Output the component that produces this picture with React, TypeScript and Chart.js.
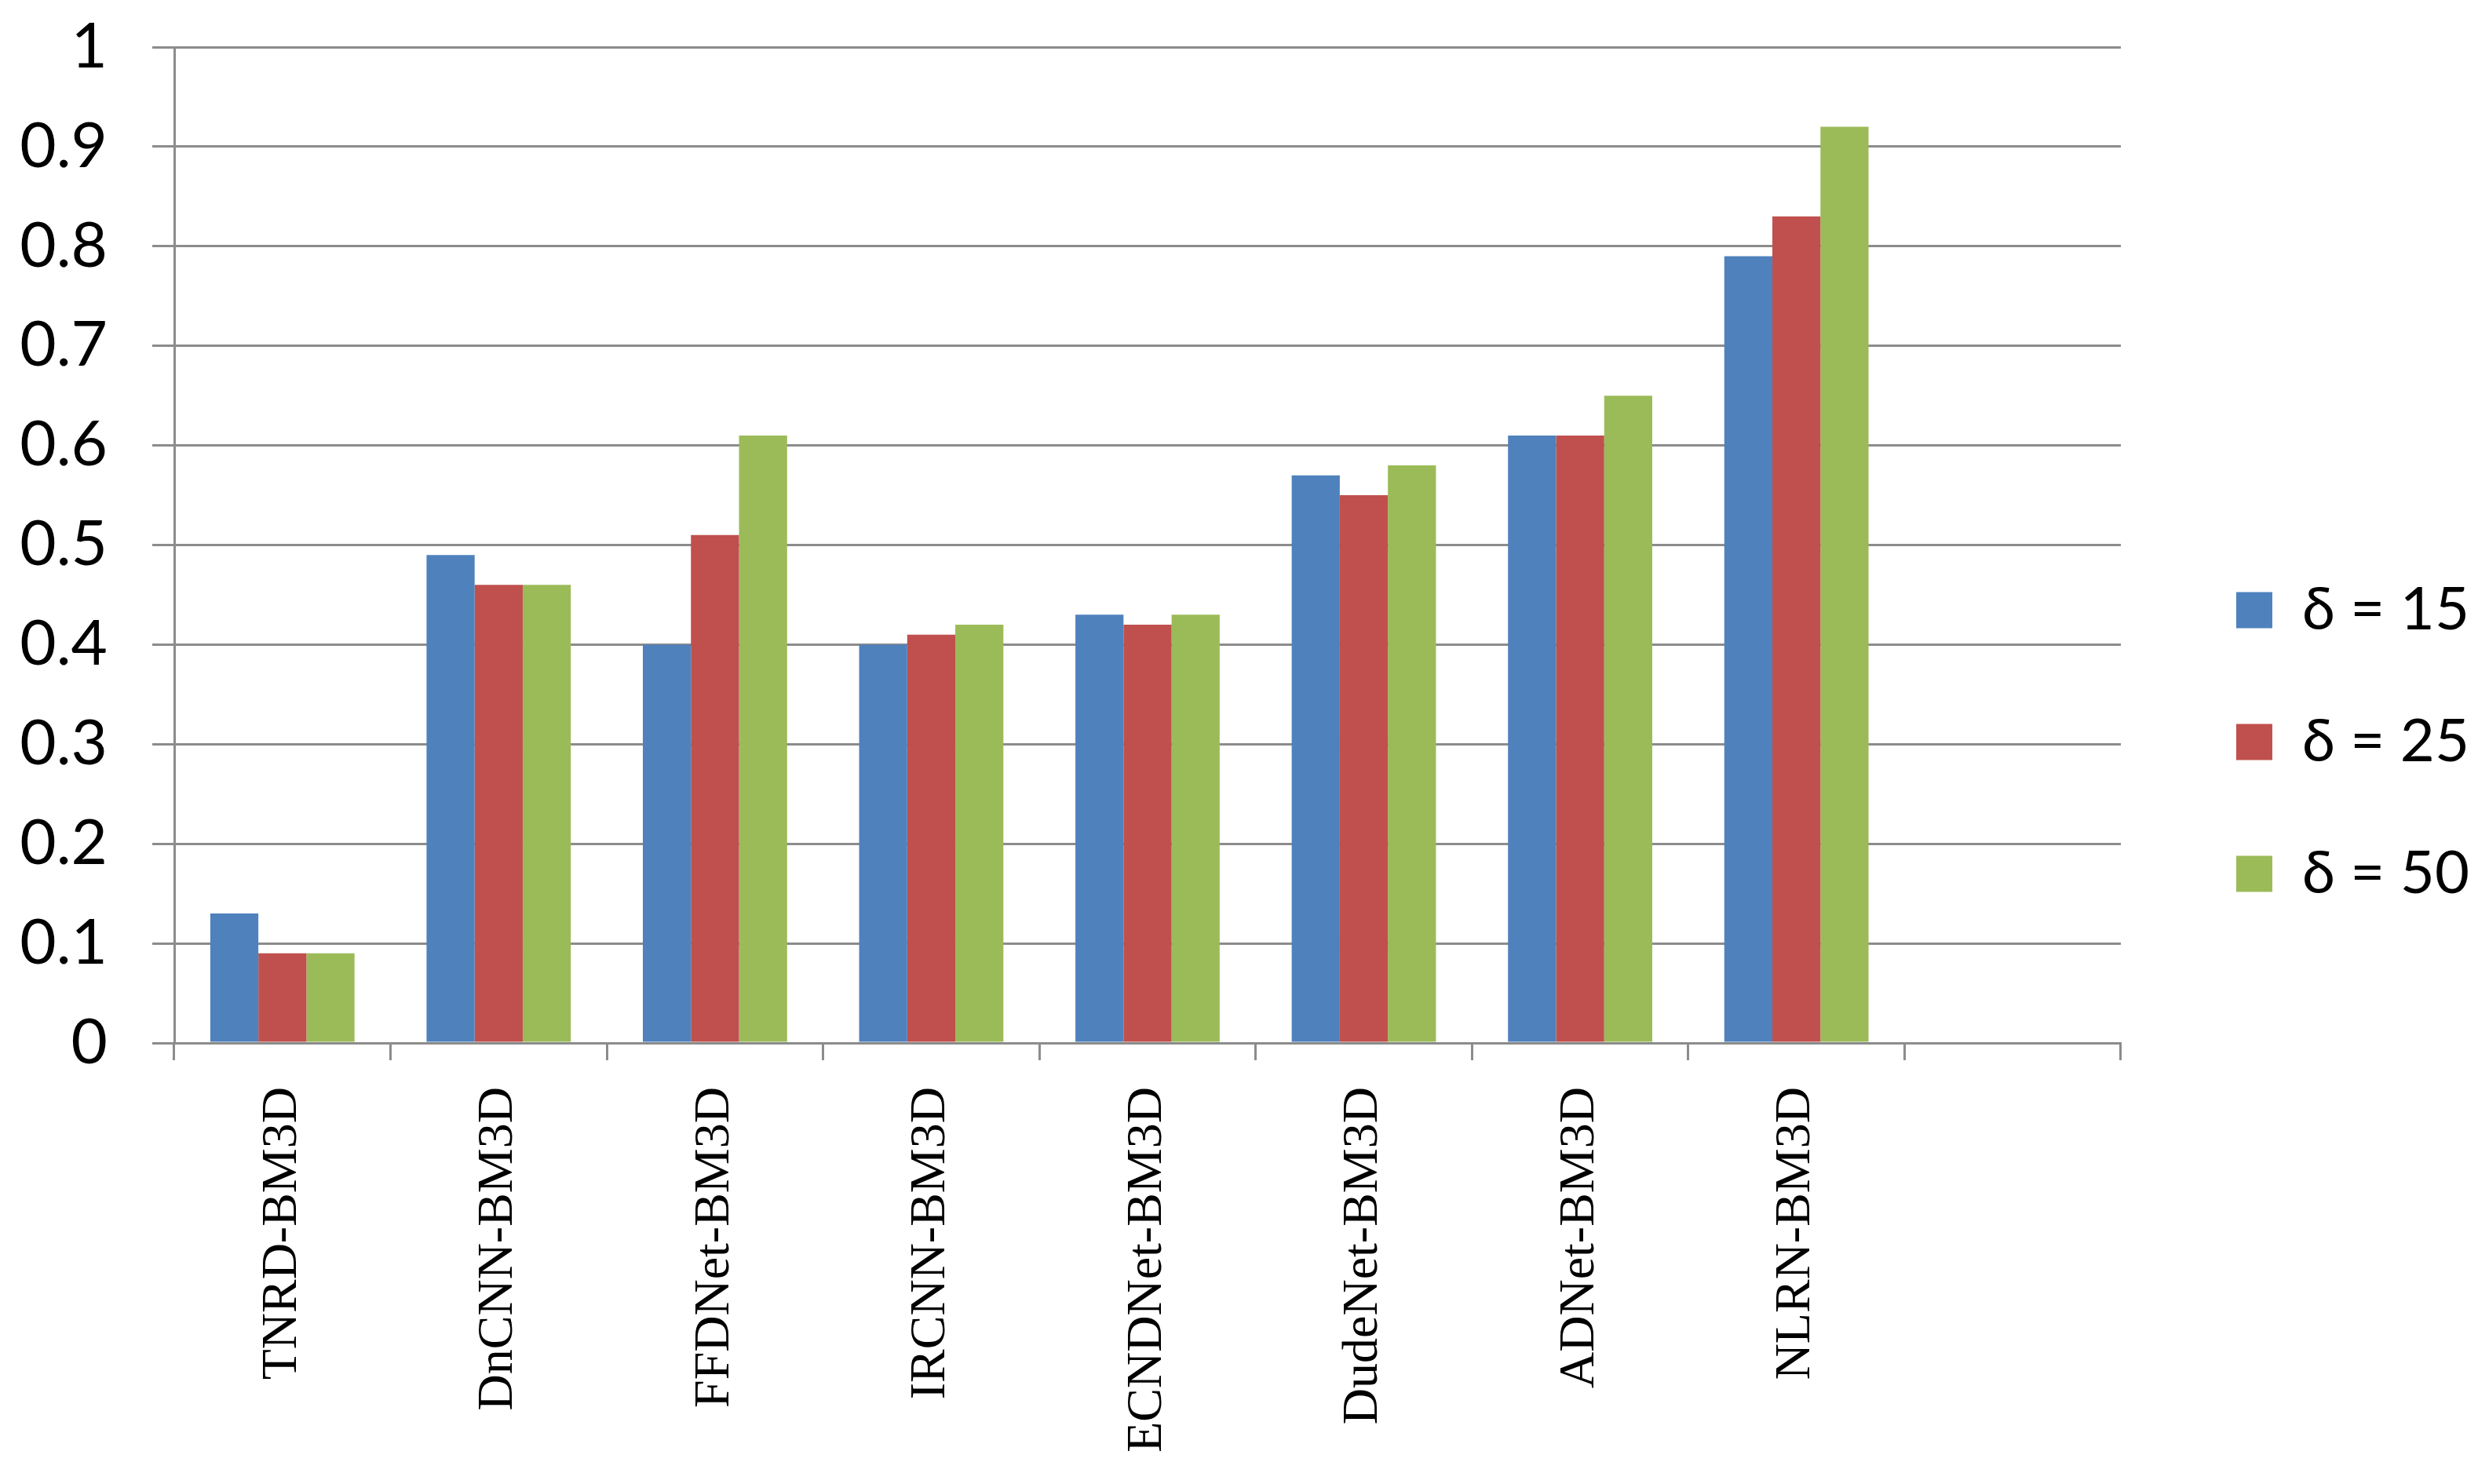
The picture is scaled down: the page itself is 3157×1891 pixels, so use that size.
import React, { useEffect, useRef } from "react";
import { Chart, registerables } from "chart.js";

Chart.register(...registerables);

const categories = [
  "TNRD-BM3D",
  "DnCNN-BM3D",
  "FFDNet-BM3D",
  "IRCNN-BM3D",
  "ECNDNet-BM3D",
  "DudeNet-BM3D",
  "ADNet-BM3D",
  "NLRN-BM3D",
  "",
];

const seriesNames = ["δ = 15", "δ = 25", "δ = 50"];
const delta15 = [0.13, 0.49, 0.4, 0.4, 0.43, 0.57, 0.61, 0.79, null];
const delta25 = [0.09, 0.46, 0.51, 0.41, 0.42, 0.55, 0.61, 0.83, null];
const delta50 = [0.09, 0.46, 0.61, 0.42, 0.43, 0.58, 0.65, 0.92, null];
const seriesColors = ["#4F81BD", "#C0504D", "#9BBB59"];
const yTickLabels = ["0", "0.1", "0.2", "0.3", "0.4", "0.5", "0.6", "0.7", "0.8", "0.9", "1"];

const W = 3157;
const H = 1891;
const GRID = "#8c8c8c";

export default function App() {
  const ref = useRef<HTMLCanvasElement | null>(null);

  useEffect(() => {
    if (!ref.current) return;
    const values = [delta15, delta25, delta50];
    const chart = new Chart(ref.current, {
      type: "bar",
      data: {
        labels: categories,
        datasets: values.map((v, i) => ({
          label: seriesNames[i],
          data: v,
          backgroundColor: seriesColors[i],
          borderWidth: 0,
          barPercentage: 1,
          categoryPercentage: 0.667,
          yAxisID: "y",
        })),
      },
      options: {
        animation: false,
        responsive: false,
        devicePixelRatio: 1,
        layout: { padding: { top: 0, left: 0, right: 1, bottom: 0 } },
        plugins: {
          tooltip: { enabled: false },
          legend: {
            position: "right",
            labels: {
              boxWidth: 46,
              boxHeight: 46,
              padding: 92,
              color: "#000",
              font: { family: "Lato", size: 76 },
            },
          },
        },
        scales: {
          x: {
            grid: {
              display: true,
              drawOnChartArea: false,
              drawTicks: true,
              tickLength: 22,
              color: GRID,
              lineWidth: 3,
              offset: true,
            },
            border: { color: GRID, width: 3 },
            ticks: {
              autoSkip: false,
              minRotation: 90,
              maxRotation: 90,
              padding: 34,
              color: "#000",
              font: { family: "Liberation Serif", size: 64 },
            },
            afterFit: (s: any) => {
              s.height = 562;
            },
          },
          y: {
            min: 0,
            max: 1,
            grid: { color: GRID, lineWidth: 3, tickLength: 28, drawTicks: true },
            border: { color: GRID, width: 3 },
            ticks: {
              stepSize: 0.1,
              padding: 57,
              color: "#000",
              font: { family: "Lato", size: 80 },
              callback: (value: any) => yTickLabels[Math.round(Number(value) * 10)],
            },
            afterFit: (s: any) => {
              s.width = 222;
              s.paddingTop = 60;
              s.paddingBottom = 0;
            },
          },
          spacer: {
            type: "linear",
            position: "right",
            display: true,
            grid: { display: false },
            border: { display: false },
            ticks: { display: false },
            afterFit: (s: any) => {
              s.width = 55;
              s.paddingTop = 0;
              s.paddingBottom = 0;
            },
          },
        },
      },
    } as any);
    return () => chart.destroy();
  }, []);

  return (
    <div style={{ position: "fixed", left: 0, top: 0, width: W, height: H, background: "#fff" }}>
      <canvas ref={ref} width={W} height={H} style={{ width: W, height: H }} />
    </div>
  );
}
